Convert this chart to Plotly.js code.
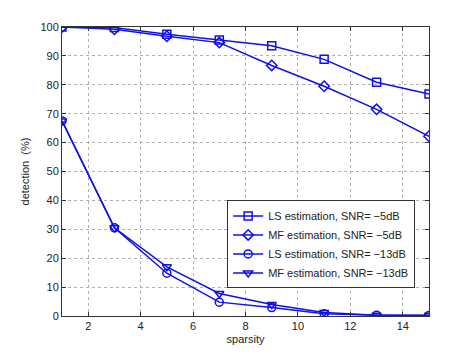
<!DOCTYPE html>
<html><head><meta charset="utf-8">
<script src="https://cdn.plot.ly/plotly-3.0.1.min.js"></script>
<style>html,body{margin:0;padding:0;background:#fff}#plot{width:474px;height:355px}</style>
</head><body><div id="plot"></div>
<script>
const sparsity = [1, 3, 5, 7, 9, 11, 13, 15];
const lsMinus5 = [100, 99.8, 97.5, 95.5, 93.5, 88.8, 80.9, 76.8];
const mfMinus5 = [100, 99.2, 96.8, 94.6, 86.7, 79.5, 71.5, 62.2];
const lsMinus13 = [67.5, 30.5, 14.8, 4.8, 2.9, 0.8, 0.3, 0.2];
const mfMinus13 = [67.5, 30.5, 17.0, 7.8, 4.0, 1.2, 0.3, 0.3];
const names = ['LS estimation, SNR= \u22125dB', 'MF estimation, SNR= \u22125dB', 'LS estimation, SNR= \u221213dB', 'MF estimation, SNR= \u221213dB'];
const symbols = ['square-open', 'diamond-open', 'circle-open', 'triangle-down-open'];
const series = [lsMinus5, mfMinus5, lsMinus13, mfMinus13];
const color = '#1010e8';
const traces = series.map((s, i) => ({
  x: sparsity, y: s, name: names[i], type: 'scatter', mode: 'lines+markers',
  line: {color: color, width: 1.5},
  marker: {symbol: symbols[i], size: 8, color: color, line: {color: color, width: 1.5}}
}));
const layout = {
  width: 474, height: 355,
  margin: {l: 62, r: 45, t: 27, b: 39},
  paper_bgcolor: '#fff', plot_bgcolor: '#fff',
  font: {family: 'Liberation Sans, Arial, sans-serif', size: 11, color: '#222'},
  showlegend: true,
  legend: {x: 0.45, y: 0.40, xanchor: 'left', yanchor: 'top', bgcolor: '#fff', bordercolor: '#333', borderwidth: 1, font: {size: 11}, tracegroupgap: 0},
  xaxis: {range: [1, 15], tickvals: [2, 4, 6, 8, 10, 12, 14], showgrid: true, gridcolor: '#b0b0b0', griddash: 'dot', gridwidth: 1,
    showline: true, linecolor: '#333', linewidth: 1, mirror: 'ticks', ticks: 'inside', ticklen: 4, tickcolor: '#333', zeroline: false,
    title: {text: 'sparsity', font: {size: 11}, standoff: 4}},
  yaxis: {range: [0, 100], dtick: 10, showgrid: true, gridcolor: '#b0b0b0', griddash: 'dot', gridwidth: 1,
    showline: true, linecolor: '#333', linewidth: 1, mirror: 'ticks', ticks: 'inside', ticklen: 4, tickcolor: '#333', zeroline: false,
    title: {text: 'detection  (%)', font: {size: 11}, standoff: 8}}
};
Plotly.newPlot('plot', traces, layout, {displayModeBar: false, staticPlot: true});
</script></body></html>
